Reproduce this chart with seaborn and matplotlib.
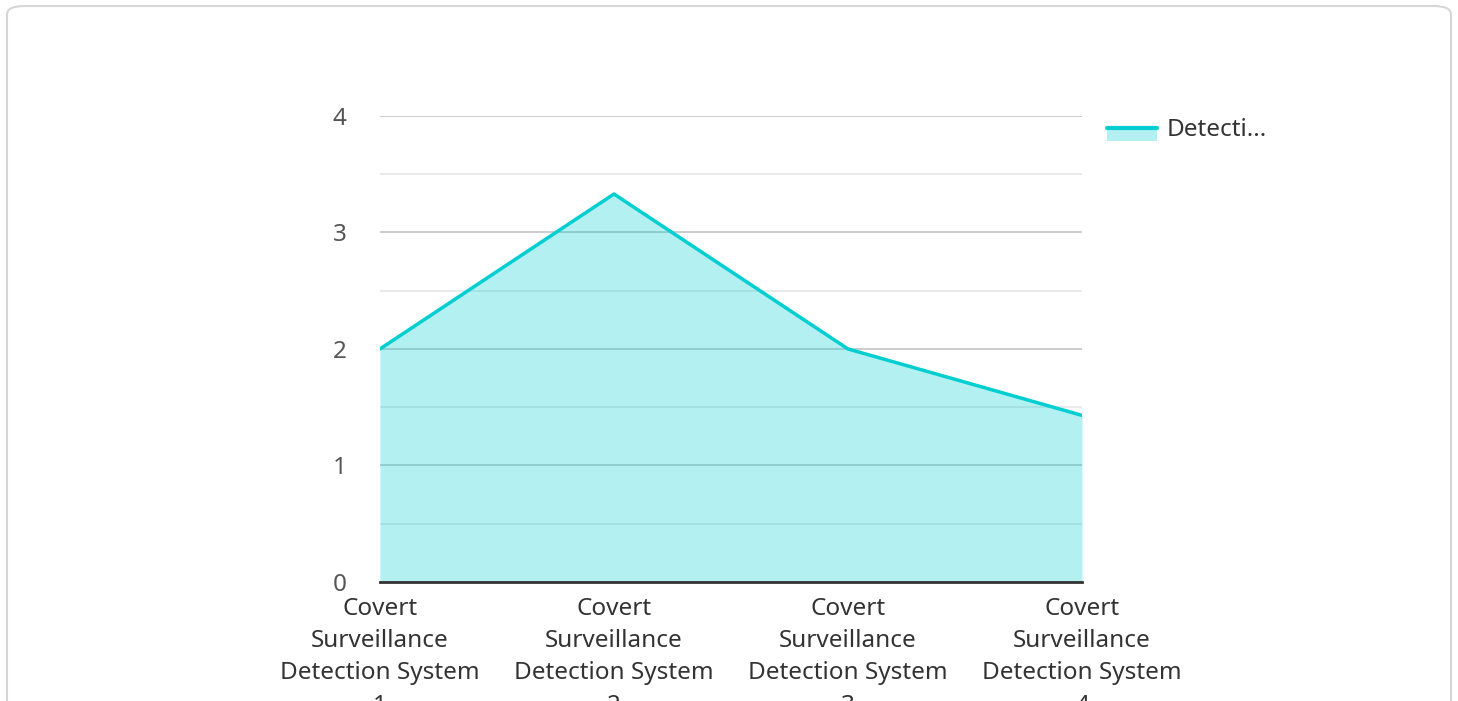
import numpy as np
import pandas as pd
import matplotlib
matplotlib.use('Agg')
import matplotlib.pyplot as plt
import seaborn as sns
from matplotlib.patches import FancyBboxPatch, Rectangle
from matplotlib.lines import Line2D

# 数据
categories = ['Covert\nSurveillance\nDetection System\n1',
              'Covert\nSurveillance\nDetection System\n2',
              'Covert\nSurveillance\nDetection System\n3',
              'Covert\nSurveillance\nDetection System\n4']
values = [2.0, 3.33, 2.0, 1.43]
y_ticks = [0, 1, 2, 3, 4]
legend_label = 'Detecti...'

sns.set_style('white')
plt.rcParams['font.family'] = ['Noto Sans', 'DejaVu Sans']

line_color = '#00CED1'
fs = 17.5

df = pd.DataFrame({'x': np.arange(len(categories)), 'y': values})

fig = plt.figure(figsize=(14.58, 7.01), dpi=100)
ax = fig.add_axes([0.2606, 0.1698, 0.4815, 0.6648])

# 面积填充 + 折线
ax.fill_between(df['x'], df['y'], 0, color=line_color, alpha=0.3, linewidth=0, zorder=1)
sns.lineplot(data=df, x='x', y='y', ax=ax, color=line_color, linewidth=2.5, zorder=3)

ax.set_xlim(0, len(categories) - 1)
ax.set_ylim(0, 4)
ax.set_xticks(df['x'])
ax.set_xticklabels(categories, fontsize=fs, color='#333333', linespacing=1.45)
ax.set_yticks(y_ticks)
ax.set_yticklabels([str(t) for t in y_ticks], fontsize=fs, color='#555555')
ax.set_yticks([0.5, 1.5, 2.5, 3.5], minor=True)
ax.tick_params(axis='both', which='both', length=0)
ax.tick_params(axis='x', pad=11)
ax.tick_params(axis='y', pad=24)
ax.set_xlabel('')
ax.set_ylabel('')

# 网格在填充下方
ax.set_axisbelow(True)
ax.grid(axis='y', which='major', color='#c4c4c4', linewidth=1.2, zorder=0)
ax.grid(axis='y', which='minor', color='#e6e6e6', linewidth=1.2, zorder=0)
ax.grid(axis='x', visible=False)
for s in ['top', 'right', 'left']:
    ax.spines[s].set_visible(False)
ax.spines['bottom'].set_color('#333333')
ax.spines['bottom'].set_linewidth(2)
ax.spines['bottom'].set_zorder(4)

# 图例
fig.add_artist(Rectangle((1107 / 1458, 1 - 141 / 701), 50 / 1458, 14 / 701,
                         transform=fig.transFigure, facecolor=line_color, alpha=0.3,
                         edgecolor='none'))
fig.add_artist(Line2D([1107 / 1458, 1157 / 1458], [1 - 128 / 701, 1 - 128 / 701],
                      transform=fig.transFigure, color=line_color, linewidth=3))
fig.text(1167 / 1458, 1 - 130 / 701, legend_label, fontsize=fs, color='#333333',
         va='center', ha='left')

# 卡片边框
fig.add_artist(FancyBboxPatch((7 / 1458, -0.05), 1444 / 1458, (695 / 701) + 0.05,
                              boxstyle='round,pad=0,rounding_size=0.012',
                              transform=fig.transFigure, facecolor='none',
                              edgecolor='#d6d6d6', linewidth=1.5, zorder=0))

fig.savefig('out.png', dpi=100)
